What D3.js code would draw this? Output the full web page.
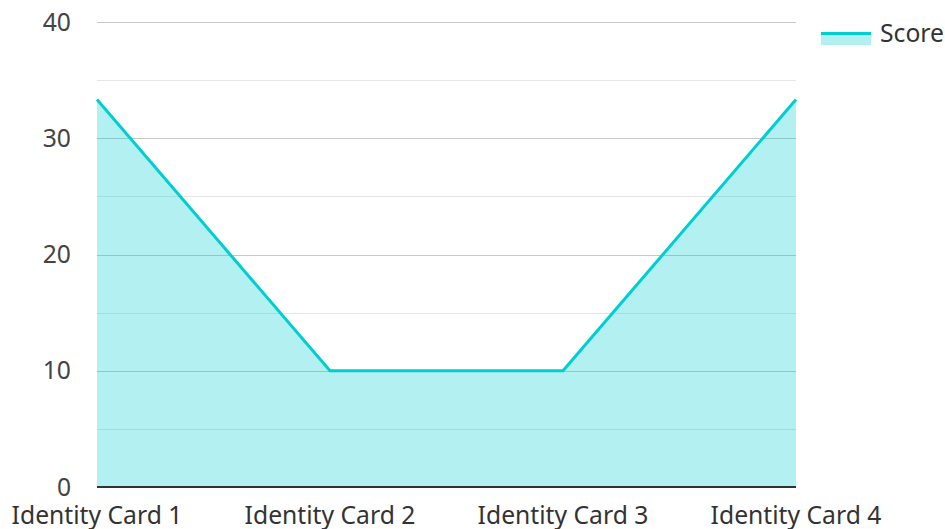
<!DOCTYPE html>
<html><head><meta charset="utf-8">
<script src="https://cdn.jsdelivr.net/npm/d3@7"></script>
<style>body{margin:0;background:#fff}svg{display:block;font-family:"Noto Sans",sans-serif}</style>
</head><body><svg id="c" width="945" height="529"></svg>
<script>
const categories = ["Identity Card 1","Identity Card 2","Identity Card 3","Identity Card 4"];
const scores = [33.33, 10, 10, 33.33];
const yTicks = [0,10,20,30,40];
const minorTicks = [5,15,25,35];
const seriesName = "Score";

(function(){
const svg = d3.select("#c");
const pL=97, pR=796, pT=22, pB=487;
const x = d3.scalePoint().domain(categories).range([pL,pR]);
const y = d3.scaleLinear().domain([0,40]).range([pB,pT]);
const color = "#00CED1";
const fs = 24.7;
const data = categories.map((c,i)=>({c,v:scores[i]}));

svg.append("g").selectAll("line").data(minorTicks).join("line")
  .attr("x1",pL).attr("x2",pR).attr("y1",d=>Math.round(y(d))+0.5).attr("y2",d=>Math.round(y(d))+0.5)
  .attr("stroke","#e6e6e6").attr("stroke-width",1);
svg.append("g").selectAll("line").data(yTicks.filter(d=>d>0)).join("line")
  .attr("x1",pL).attr("x2",pR).attr("y1",d=>Math.round(y(d))+0.5).attr("y2",d=>Math.round(y(d))+0.5)
  .attr("stroke","#c8c8c8").attr("stroke-width",1);

svg.append("path").datum(data)
  .attr("d",d3.area().x(d=>x(d.c)).y0(y(0)).y1(d=>y(d.v)))
  .attr("fill",color).attr("fill-opacity",0.3);
svg.append("path").datum(data)
  .attr("d",d3.line().x(d=>x(d.c)).y(d=>y(d.v)))
  .attr("fill","none").attr("stroke",color).attr("stroke-width",3);

svg.append("line").attr("x1",pL).attr("x2",pR).attr("y1",y(0)).attr("y2",y(0))
  .attr("stroke","#333").attr("stroke-width",2);

svg.append("g").selectAll("text").data(yTicks).join("text")
  .attr("x",71).attr("y",d=>y(d)).attr("dy","0.35em").attr("text-anchor","end")
  .attr("font-size",fs).attr("fill","#444").text(d=>d);
svg.append("g").selectAll("text").data(categories).join("text")
  .attr("x",d=>x(d)).attr("y",524).attr("text-anchor","middle")
  .attr("font-size",fs).attr("fill","#333").text(d=>d);

const lg = svg.append("g");
lg.append("rect").attr("x",821).attr("y",33).attr("width",50).attr("height",12).attr("fill",color).attr("fill-opacity",0.3);
lg.append("line").attr("x1",821).attr("x2",871).attr("y1",33.5).attr("y2",33.5).attr("stroke",color).attr("stroke-width",3);
lg.append("text").attr("x",880).attr("y",42).attr("font-size",fs).attr("fill","#333").text(seriesName);
})();
</script></body></html>
